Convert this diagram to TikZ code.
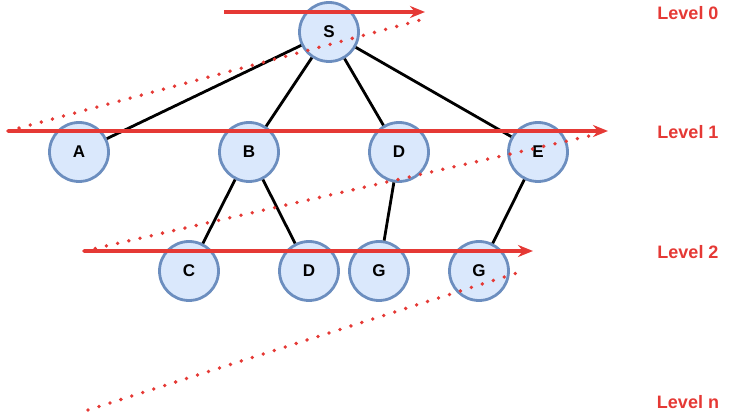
\documentclass[tikz,border=0pt]{standalone}
\usepackage{fontspec}
\setmainfont{Liberation Sans}
\usepackage{xcolor}
\definecolor{levelred}{RGB}{229,57,53}
\definecolor{nodefill}{RGB}{218,232,252}
\definecolor{nodeline}{RGB}{108,142,191}
\usepackage{tikz}
\usetikzlibrary{arrows.meta}
\tikzset{
  vertex/.style={circle, draw=nodeline, fill=nodefill, line width=2.8pt,
    minimum size=59pt, inner sep=0pt, font=\fontsize{17}{19}\selectfont\bfseries},
  edge/.style={line width=2.8pt, black},
  levelarrow/.style={line width=3.2pt, levelred, -{Stealth[length=15pt,width=12pt]}},
  levelpath/.style={line width=3.8pt, levelred, line cap=round, dash pattern=on 0pt off 11.5pt},
  levellabel/.style={levelred, font=\fontsize{18}{20}\selectfont\bfseries}
}

\begin{document}
\begin{tikzpicture}[x=1pt,y=-1pt]
\useasboundingbox (0,0) rectangle (729,414);

\node[vertex] at (329,32)(S){S};
\node[vertex] at (79,152)(A){A};
\node[vertex] at (249,152)(B){B};
\node[vertex] at (399,152)(D){D};
\node[vertex] at (538,152)(E){E};
\node[vertex] at (189,271)(C){C};
\node[vertex] at (309,271)(D2){D};
\node[vertex] at (379,271)(G){G};
\node[vertex] at (479,271)(G2){G};

\draw[edge] (S) -- (A);
\draw[edge] (S) -- (B);
\draw[edge] (S) -- (D);
\draw[edge] (S) -- (E);
\draw[edge] (B) -- (C);
\draw[edge] (B) -- (D2);
\draw[edge] (D) -- (G);
\draw[edge] (E) -- (G2);

\coordinate (l0start) at (224,12);
\coordinate (l0end) at (425,12);
\coordinate (l1start) at (8,131);
\coordinate (l1end) at (608,131);
\coordinate (l2start) at (84,251);
\coordinate (l2end) at (533,251);

\coordinate (p0end) at (428,18);
\coordinate (p1end) at (598,134);
\coordinate (p2start) at (88,410);
\coordinate (p2end) at (526,270);

\draw[levelarrow] (l0start) -- (l0end);
\draw[levelarrow] (l1start) -- (l1end);
\draw[levelarrow] (l2start) -- (l2end);

\draw[levelpath] (l1start) -- (p0end);
\draw[levelpath] (l2start) -- (p1end);
\draw[levelpath] (p2start) -- (p2end);

\node[levellabel] at (688,13)(lev0){Level 0};
\node[levellabel] at (688,132)(lev1){Level 1};
\node[levellabel] at (688,252)(lev2){Level 2};
\node[levellabel] at (688,402)(levn){Level n};
\end{tikzpicture}
\end{document}
